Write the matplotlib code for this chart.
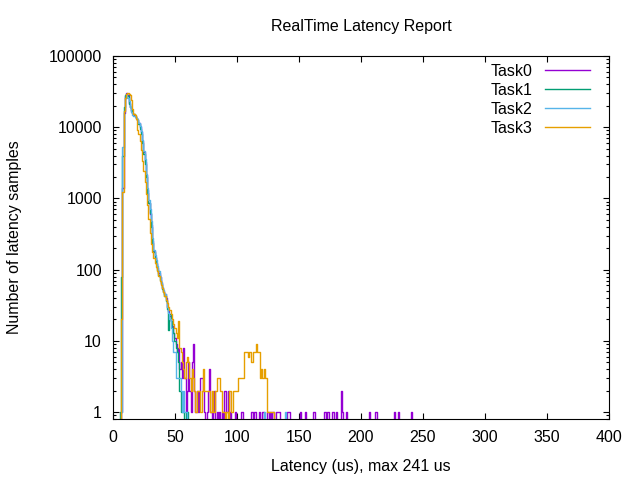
import numpy as np
import matplotlib
matplotlib.use("Agg")
import matplotlib.pyplot as plt
from matplotlib.ticker import FixedLocator, FixedFormatter, LogLocator, NullFormatter

plt.rcParams["font.family"] = ["Liberation Sans", "DejaVu Sans"]

# latency (us) -> number of samples
task0 = {
    7: 1, 8: 1400, 9: 16000, 10: 27000, 11: 30000, 12: 28000, 13: 22000, 14: 19000,
    15: 17000, 16: 16000, 17: 15000, 18: 14500, 19: 13500, 20: 12500, 21: 11500,
    22: 10000, 23: 8500, 24: 6500, 25: 4500, 26: 3200, 27: 2100, 28: 1300, 29: 850,
    30: 600, 31: 420, 32: 250, 33: 180, 34: 150, 35: 125, 36: 105, 37: 90, 38: 78,
    39: 66, 40: 56, 41: 50, 42: 45, 43: 40, 44: 30, 45: 26, 46: 22, 47: 19, 48: 16,
    49: 13, 50: 11, 51: 9, 52: 7, 53: 8, 54: 4, 55: 5, 56: 3, 57: 8, 58: 3, 59: 1,
    60: 2, 61: 5, 62: 2, 63: 1, 64: 5, 65: 9, 66: 2, 67: 1, 68: 2, 69: 1, 70: 2,
    71: 3, 72: 3, 73: 2, 74: 1, 76: 1, 77: 2, 78: 4, 79: 1, 81: 1, 82: 2, 84: 1,
    86: 1, 88: 1, 90: 2, 91: 2, 92: 1, 93: 2, 95: 1, 99: 1, 104: 1, 112: 1, 114: 1,
    115: 1, 118: 1, 121: 1, 125: 1, 127: 1, 129: 1, 132: 1, 133: 1, 134: 1, 141: 1,
    142: 1, 151: 1, 155: 1, 162: 1, 171: 1, 173: 1, 174: 1, 177: 1, 178: 1, 180: 1,
    184: 2, 185: 1, 188: 1, 207: 1, 212: 1, 227: 1, 230: 1, 241: 1,
}
task1 = {
    6: 1, 7: 80, 8: 4000, 9: 19000, 10: 28000, 11: 29000, 12: 27000, 13: 21000,
    14: 19000, 15: 17500, 16: 16000, 17: 15500, 18: 14500, 19: 13500, 20: 12500,
    21: 11000, 22: 9500, 23: 8000, 24: 6000, 25: 4200, 26: 3000, 27: 2000, 28: 1200,
    29: 850, 30: 620, 31: 400, 32: 240, 33: 175, 34: 145, 35: 120, 36: 100, 37: 85,
    38: 72, 39: 62, 40: 54, 41: 48, 42: 42, 43: 36, 44: 28, 45: 14, 46: 24, 47: 19,
    48: 15, 49: 13, 50: 10, 51: 8, 52: 7, 53: 5, 54: 2, 55: 1, 56: 1, 57: 1, 59: 1,
    60: 1,
}
task2 = {
    7: 1, 8: 5300, 9: 17000, 10: 26000, 11: 29000, 12: 26000, 13: 23000, 14: 19000,
    15: 16500, 16: 15000, 17: 14500, 18: 14000, 19: 13500, 20: 13000, 21: 11500,
    22: 10500, 23: 8800, 24: 6600, 25: 4700, 26: 3600, 27: 2200, 28: 1400, 29: 950,
    30: 720, 31: 480, 32: 280, 33: 190, 34: 160, 35: 135, 36: 112, 37: 95, 38: 80,
    39: 68, 40: 58, 41: 52, 42: 46, 43: 38, 44: 30, 45: 25, 46: 20, 47: 15, 48: 10,
    49: 7, 50: 7, 51: 3, 52: 3, 53: 3, 54: 3, 55: 2, 56: 1, 57: 2, 58: 1, 59: 1,
    122: 1, 139: 1,
}
task3 = {
    7: 20, 8: 1250, 9: 17000, 10: 26000, 11: 29000, 12: 30000, 13: 29000, 14: 28000,
    15: 24000, 16: 18000, 17: 15500, 18: 15000, 19: 13000, 20: 9000, 21: 8000,
    22: 6500, 23: 4800, 24: 3400, 25: 2400, 26: 1700, 27: 1150, 28: 800, 29: 520,
    30: 330, 31: 230, 32: 175, 33: 145, 34: 125, 35: 110, 36: 95, 37: 82, 38: 70,
    39: 60, 40: 55, 41: 48, 42: 42, 43: 38, 44: 34, 45: 30, 46: 27, 47: 24, 48: 20,
    49: 17, 50: 15, 51: 13, 52: 11, 53: 19, 54: 8, 55: 7, 56: 5, 57: 4, 58: 3,
    59: 5, 60: 6, 61: 5, 62: 3, 63: 2, 64: 4, 65: 3, 66: 2, 67: 1, 68: 2, 69: 2,
    70: 2, 71: 1, 72: 2, 73: 4, 74: 2, 75: 2, 76: 2, 77: 2, 78: 2, 79: 1, 80: 2,
    81: 1, 82: 1, 83: 2, 84: 3, 85: 3, 86: 3, 87: 2, 88: 1, 89: 1, 90: 1, 92: 1,
    94: 2, 95: 2, 96: 1, 97: 2, 98: 2, 99: 2, 100: 2, 101: 3, 102: 3, 103: 3,
    104: 3, 105: 3, 106: 7, 107: 7, 108: 7, 109: 6, 110: 7, 111: 7, 112: 5, 113: 7,
    114: 7, 115: 7, 116: 9, 117: 7, 118: 7, 119: 3, 120: 4, 121: 3, 122: 4, 123: 3,
    124: 3, 125: 1, 126: 1, 127: 1, 128: 1, 129: 1,
}

task_names = ["Task0", "Task1", "Task2", "Task3"]
task_colors = ["#9400d3", "#009e73", "#56b4e9", "#e69f00"]
y_ticks = [1, 10, 100, 1000, 10000, 100000]
x_ticks = [0, 50, 100, 150, 200, 250, 300, 350, 400]
max_latency = 241

fig = plt.figure(figsize=(6.4, 4.8), dpi=100)
ax = fig.add_axes([113 / 640, 1 - 419 / 480, 496 / 640, 363 / 480])

latency = np.arange(0, 260)
for name, color, data in zip(task_names, task_colors, [task0, task1, task2, task3]):
    counts = np.zeros(len(latency))
    for lat, cnt in data.items():
        counts[lat] = cnt
    ax.step(latency, counts, where="mid", color=color, lw=1.0, label=name)

ax.set_yscale("log", nonpositive="clip")
ax.set_xlim(0, 400)
ax.set_ylim(0.8, 100000)
ax.yaxis.set_major_locator(FixedLocator(y_ticks))
ax.yaxis.set_major_formatter(FixedFormatter([str(t) for t in y_ticks]))
ax.yaxis.set_minor_locator(LogLocator(base=10, subs=np.arange(2, 10)))
ax.yaxis.set_minor_formatter(NullFormatter())
ax.xaxis.set_major_locator(FixedLocator(x_ticks))
ax.tick_params(which="both", direction="in", top=True, right=True, width=0.8,
               labelsize=11.5, pad=8)
ax.tick_params(which="major", length=4.5)
ax.tick_params(which="minor", length=2.5)
for sp in ax.spines.values():
    sp.set_linewidth(0.8)

fig.text(361 / 640, 1 - 27 / 480, "RealTime Latency Report", ha="center", va="center",
         fontsize=11.5)
fig.text(361 / 640, 1 - 466 / 480, f"Latency (us), max {max_latency} us", ha="center",
         va="center", fontsize=11.5)
fig.text(15 / 640, 1 - 237 / 480, "Number of latency samples", ha="center", va="center",
         rotation=90, fontsize=11.5)

ax.legend(loc="upper right", bbox_to_anchor=(590 / 640, 1 - 64 / 480),
          bbox_transform=fig.transFigure, frameon=False, markerfirst=False,
          handlelength=2.8, handletextpad=0.8, labelspacing=0.25, borderpad=0,
          borderaxespad=0, fontsize=11.5)

fig.savefig("out.png", dpi=100)
